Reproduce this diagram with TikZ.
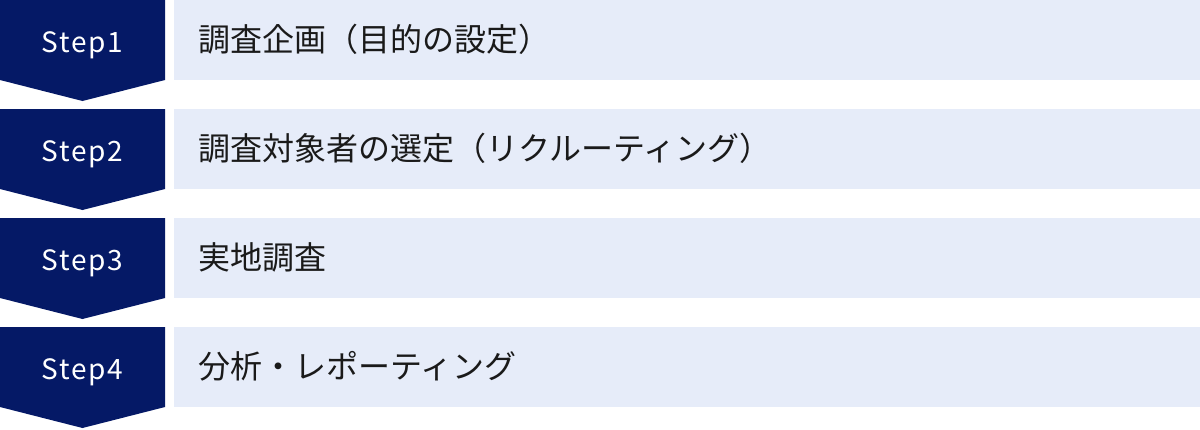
\documentclass[tikz,border=0pt]{standalone}
\usepackage{fontspec}
\usepackage{tikz}
\usetikzlibrary{positioning}
\newfontfamily\jpfont{Noto Sans CJK JP}
\newfontfamily\stepfont[LetterSpace=6]{Noto Sans CJK JP}
\definecolor{navy}{HTML}{051966}
\definecolor{lavender}{HTML}{E6ECF9}
\definecolor{ink}{HTML}{1A1A1A}
\tikzstyle{chevron}=[fill=navy]
\tikzstyle{bar}=[fill=lavender]
\tikzstyle{steplabel}=[anchor=base,inner sep=0pt,text=white,font=\stepfont\fontsize{28}{30}\selectfont]
\tikzstyle{task}=[anchor=base west,inner sep=0pt,text=ink,font=\jpfont\fontsize{32}{34}\selectfont]

\begin{document}
\begin{tikzpicture}[x=1pt,y=-1pt]
\useasboundingbox (0,0) rectangle (1200,429);
% step 1
\fill[chevron] (0,0) -- (165,0) -- (165,80) -- (82.5,101) -- (0,80) -- cycle;
\fill[bar] (174,0) rectangle (1200,80);
\node[steplabel] (s1) at (82.5,52.5) {Step1};
\node[task] (t1) at (198.5,51.5) {調査企画（目的の設定）};
% step 2
\fill[chevron] (0,109) -- (165,109) -- (165,189) -- (82.5,210) -- (0,189) -- cycle;
\fill[bar] (174,109) rectangle (1200,189);
\node[steplabel] (s2) at (82.5,161.5) {Step2};
\node[task] (t2) at (198.5,160.5) {調査対象者の選定（リクルーティング）};
% step 3
\fill[chevron] (0,218) -- (165,218) -- (165,298) -- (82.5,319) -- (0,298) -- cycle;
\fill[bar] (174,218) rectangle (1200,298);
\node[steplabel] (s3) at (82.5,270.5) {Step3};
\node[task] (t3) at (198.5,269.5) {実地調査};
% step 4
\fill[chevron] (0,327) -- (165,327) -- (165,407) -- (82.5,428) -- (0,407) -- cycle;
\fill[bar] (174,327) rectangle (1200,407);
\node[steplabel] (s4) at (82.5,379.5) {Step4};
\node[task] (t4) at (198.5,378.5) {分析・レポーティング};
\end{tikzpicture}
\end{document}
